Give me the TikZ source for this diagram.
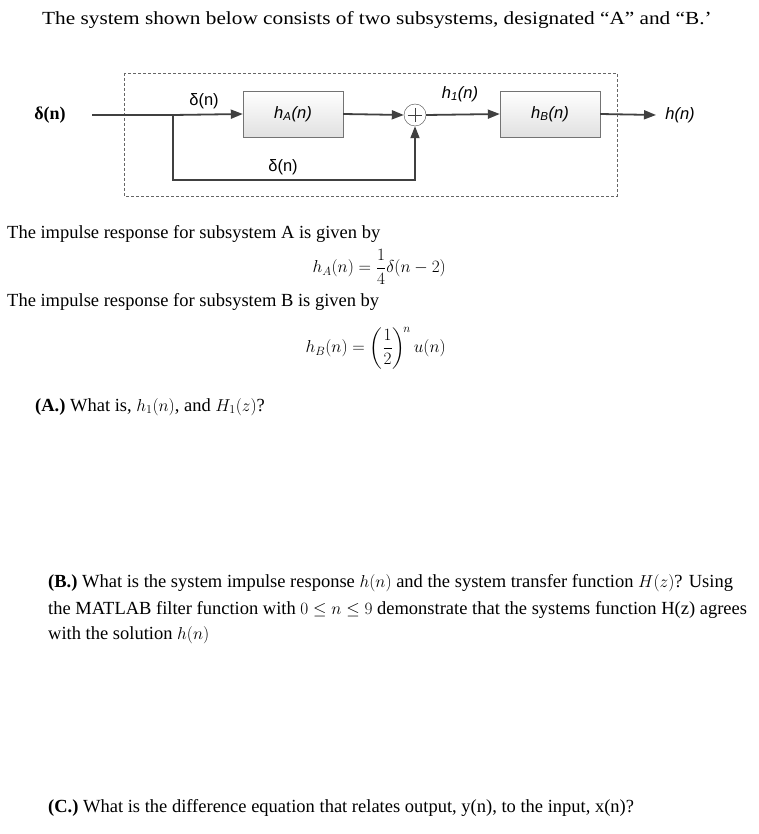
\documentclass[tikz,border=0pt]{standalone}
\usepackage{amsmath}
\usepackage{graphicx}
\usepackage{fontspec}
\setmainfont{Liberation Serif}
\newfontfamily\dsans{Liberation Sans}
\usetikzlibrary{arrows.meta}
\begin{document}
\begin{tikzpicture}[x=1pt,y=-1pt,
  txt/.style={anchor=west,inner sep=0pt,font=\fontsize{18.5}{22}\selectfont},
  lbl/.style={inner sep=1pt,font=\dsans\fontsize{16.5}{18}\selectfont},
  blk/.style={draw=black!55,top color=white,bottom color=black!12,minimum width=100,minimum height=46,font=\dsans\fontsize{16.5}{18}\selectfont\itshape},
  sig/.style={draw=black!75,line width=1.8pt},
  arr/.style={sig,-{Triangle[length=12pt,width=9pt]}}]
\useasboundingbox (0,0) rectangle (758,834);
\node[txt] (t1) at (42,20) {\scalebox{1.15}[1]{The system shown below consists of two subsystems, designated “A” and “B.’}};
\draw[densely dashed,black!60] (124,73) rectangle (617,196);
\node[lbl,font=\bfseries\fontsize{18}{18}\selectfont] (in) at (50,115) {δ(n)};
\coordinate (s) at (92,115);
\coordinate (br) at (173,115);
\coordinate (bd) at (173,180);
\coordinate (bc) at (415,180);
\node[blk] (A) at (293,114) {h\textsubscript{A}(n)};
\node[draw=black!70,circle,minimum size=22,inner sep=0,fill=white] (sum) at (415,115) {};
\draw[black!75,line width=0.8pt] (sum.north)++(0,4) -- ++(0,14) (sum.west)++(4,0) -- ++(14,0);
\node[blk] (B) at (550,114) {h\textsubscript{B}(n)};
\node[lbl,font=\dsans\itshape\fontsize{16.5}{18}\selectfont] (out) at (680,115) {h(n)};
\coordinate (oe) at (656,115);
\draw[sig] (s) -- (br);
\draw[arr] (br) -- (A.west);
\draw[arr] (A.east) -- (sum.west);
\draw[arr] (sum.east) -- (B.west);
\draw[arr] (B.east) -- (oe);
\draw[arr] (br) -- (bd) -- (bc) -- (sum.south);
\node[lbl] (l1) at (204,101) {δ(n)};
\node[lbl,font=\dsans\itshape\fontsize{16.5}{18}\selectfont] (l2) at (460,94) {h\textsubscript{1}(n)};
\node[lbl] (l3) at (283,167) {δ(n)};
\node[txt] (t2) at (7,234) {The impulse response for subsystem A is given by};
\node[txt,anchor=east] (e1) at (446,267) {$h_A(n)=\dfrac{1}{4}\delta(n-2)$};
\node[txt] (t3) at (7,302) {The impulse response for subsystem B is given by};
\node[txt,anchor=east] (e2) at (446,348) {$h_B(n)=\left(\dfrac{1}{2}\right)^{\!n} u(n)$};
\node[txt] (qa) at (35,407) {\textbf{(A.)} What is, $h_1(n)$, and $H_1(z)$?};
\node[txt] (qb1) at (48,583) {\textbf{(B.)} What is the system impulse response $h(n)$ and the system transfer function $H(z)$? Using};
\node[txt] (qb2) at (48,610) {the MATLAB filter function with $0\le n\le 9$ demonstrate that the systems function H(z) agrees};
\node[txt] (qb3) at (48,635) {with the solution $h(n)$};
\node[txt] (qc) at (48,808) {\textbf{(C.)} What is the difference equation that relates output, y(n), to the input, x(n)?};
\end{tikzpicture}
\end{document}
